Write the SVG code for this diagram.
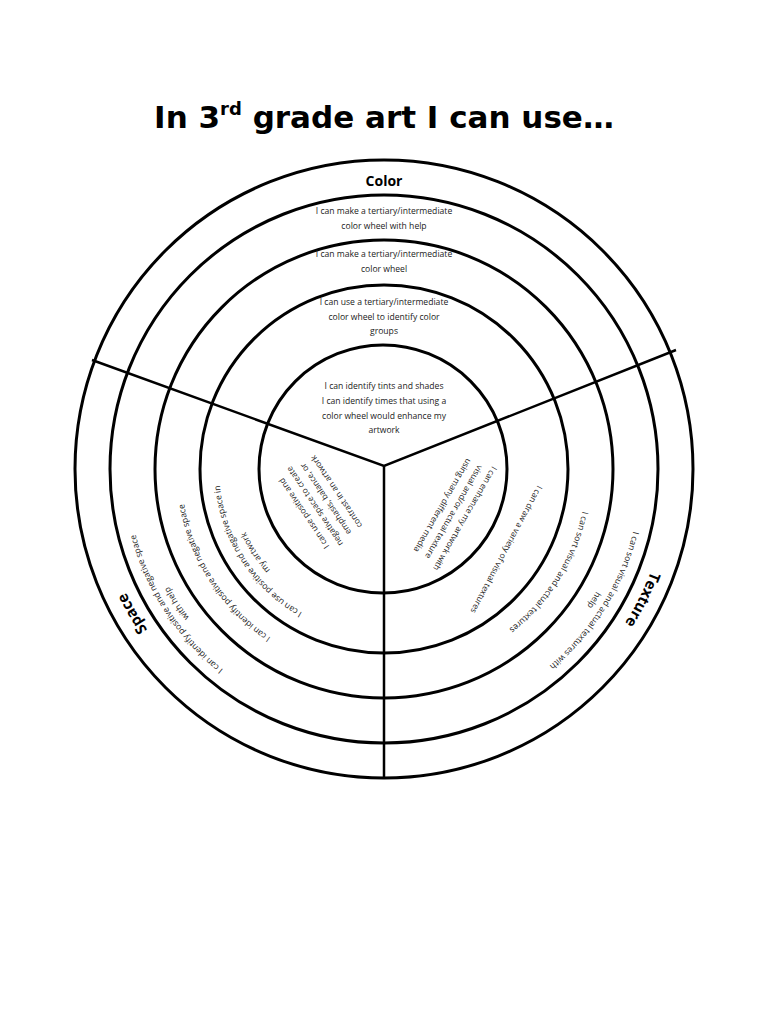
<svg xmlns="http://www.w3.org/2000/svg" width="768" height="1024" viewBox="0 0 768 1024">
<style>
.c{fill:none;stroke:#000;stroke-width:3}
.t{font-family:"Open Sans","Liberation Sans",sans-serif;font-size:8.6px;fill:#222;text-anchor:middle}
.r{font-size:8.3px}
.h{font-family:"Open Sans","Liberation Sans",sans-serif;font-weight:bold;fill:#000;text-anchor:middle}
</style>
<defs>
<path id="s286" d="M359.1,753.9 A286,286 0 0 1 113.6,375.9"/>
<path id="s257" d="M361.6,725.0 A257,257 0 0 1 141.0,385.3"/>
<path id="s245" d="M362.6,713.1 A245,245 0 0 1 152.4,389.2"/>
<path id="s203" d="M366.3,671.2 A203,203 0 0 1 192.1,402.9"/>
<path id="s165" d="M369.6,633.4 A165,165 0 0 1 228.0,415.3"/>
<path id="s152" d="M370.7,620.4 A152,152 0 0 1 240.3,419.5"/>
<path id="x286" d="M652.7,371.2 A286,286 0 0 1 413.9,753.4"/>
<path id="x257" d="M625.5,381.1 A257,257 0 0 1 410.9,724.6"/>
<path id="x245" d="M614.2,385.2 A245,245 0 0 1 409.6,712.7"/>
<path id="x203" d="M574.8,399.6 A203,203 0 0 1 405.2,670.9"/>
</defs>
<rect width="768" height="1024" fill="#fff"/>
<text x="384" y="128" font-family="DejaVu Sans,sans-serif" font-weight="bold" font-size="31" text-anchor="middle">In 3<tspan font-size="18" dy="-13">rd</tspan><tspan dy="13"> grade art I can use…</tspan></text>
<g id="rings">
<circle class="c" cx="384" cy="469" r="309" stroke-width="4"/>
<circle class="c" cx="384" cy="469" r="274"/>
<circle class="c" cx="384" cy="469" r="229"/>
<circle class="c" cx="384" cy="469" r="184"/>
<circle class="c" cx="383" cy="469" r="124"/>
</g>
<g id="connectors" stroke="#000" stroke-width="2.5" fill="none">
<polyline points="92,360 384,466 676,350"/>
<line x1="384" y1="466" x2="384" y2="778"/>
</g>
<g id="color">
<text class="h" x="384" y="186" font-size="14">Color</text>
<text class="t" x="384" y="214">I can make a tertiary/intermediate<tspan x="384" dy="15">color wheel with help</tspan></text>
<text class="t" x="384" y="257">I can make a tertiary/intermediate<tspan x="384" dy="15">color wheel</tspan></text>
<text class="t" x="384" y="305">I can use a tertiary/intermediate<tspan x="384" dy="15">color wheel to identify color</tspan><tspan x="384" dy="14">groups</tspan></text>
<text class="t" x="384" y="389">I can identify tints and shades<tspan x="384" dy="15">I can identify times that using a</tspan><tspan x="384" dy="15">color wheel would enhance my</tspan><tspan x="384" dy="14">artwork</tspan></text>
</g>
<g id="space">
<text class="h" font-size="15"><textPath href="#s286" startOffset="53%">Space</textPath></text>
<text class="t"><textPath href="#s257" startOffset="50%">I can identify positive and negative space</textPath></text>
<text class="t"><textPath href="#s245" startOffset="50%">with help</textPath></text>
<text class="t"><textPath href="#s203" startOffset="50%">I can identify positive and negative space</textPath></text>
<text class="t"><textPath href="#s165" startOffset="50%">I can use positive and negative space in</textPath></text>
<text class="t"><textPath href="#s152" startOffset="50%">my artwork</textPath></text>
<text class="t r" transform="translate(318,504) rotate(-124)"><tspan x="0" dy="-14">I can use positive and</tspan><tspan x="0" dy="13">negative space to create</tspan><tspan x="0" dy="13">emphasis, balance, or</tspan><tspan x="0" dy="13">contrast in an artwork</tspan></text>
</g>
<g id="texture">
<text class="h" font-size="15"><textPath href="#x286" startOffset="45%">Texture</textPath></text>
<text class="t"><textPath href="#x257" startOffset="50%">I can sort visual and actual textures with</textPath></text>
<text class="t"><textPath href="#x245" startOffset="50%">help</textPath></text>
<text class="t"><textPath href="#x203" startOffset="50%">I can sort visual and actual textures</textPath></text>
<text class="t r" transform="translate(504,548) rotate(118)">I can draw a variety of visual textures</text>
<text class="t r" transform="translate(454,512) rotate(120)"><tspan x="0" dy="-10">I can enhance my artwork with</tspan><tspan x="0" dy="13">visual and/or actual texture</tspan><tspan x="0" dy="13">using many different media</tspan></text>
</g>
</svg>
